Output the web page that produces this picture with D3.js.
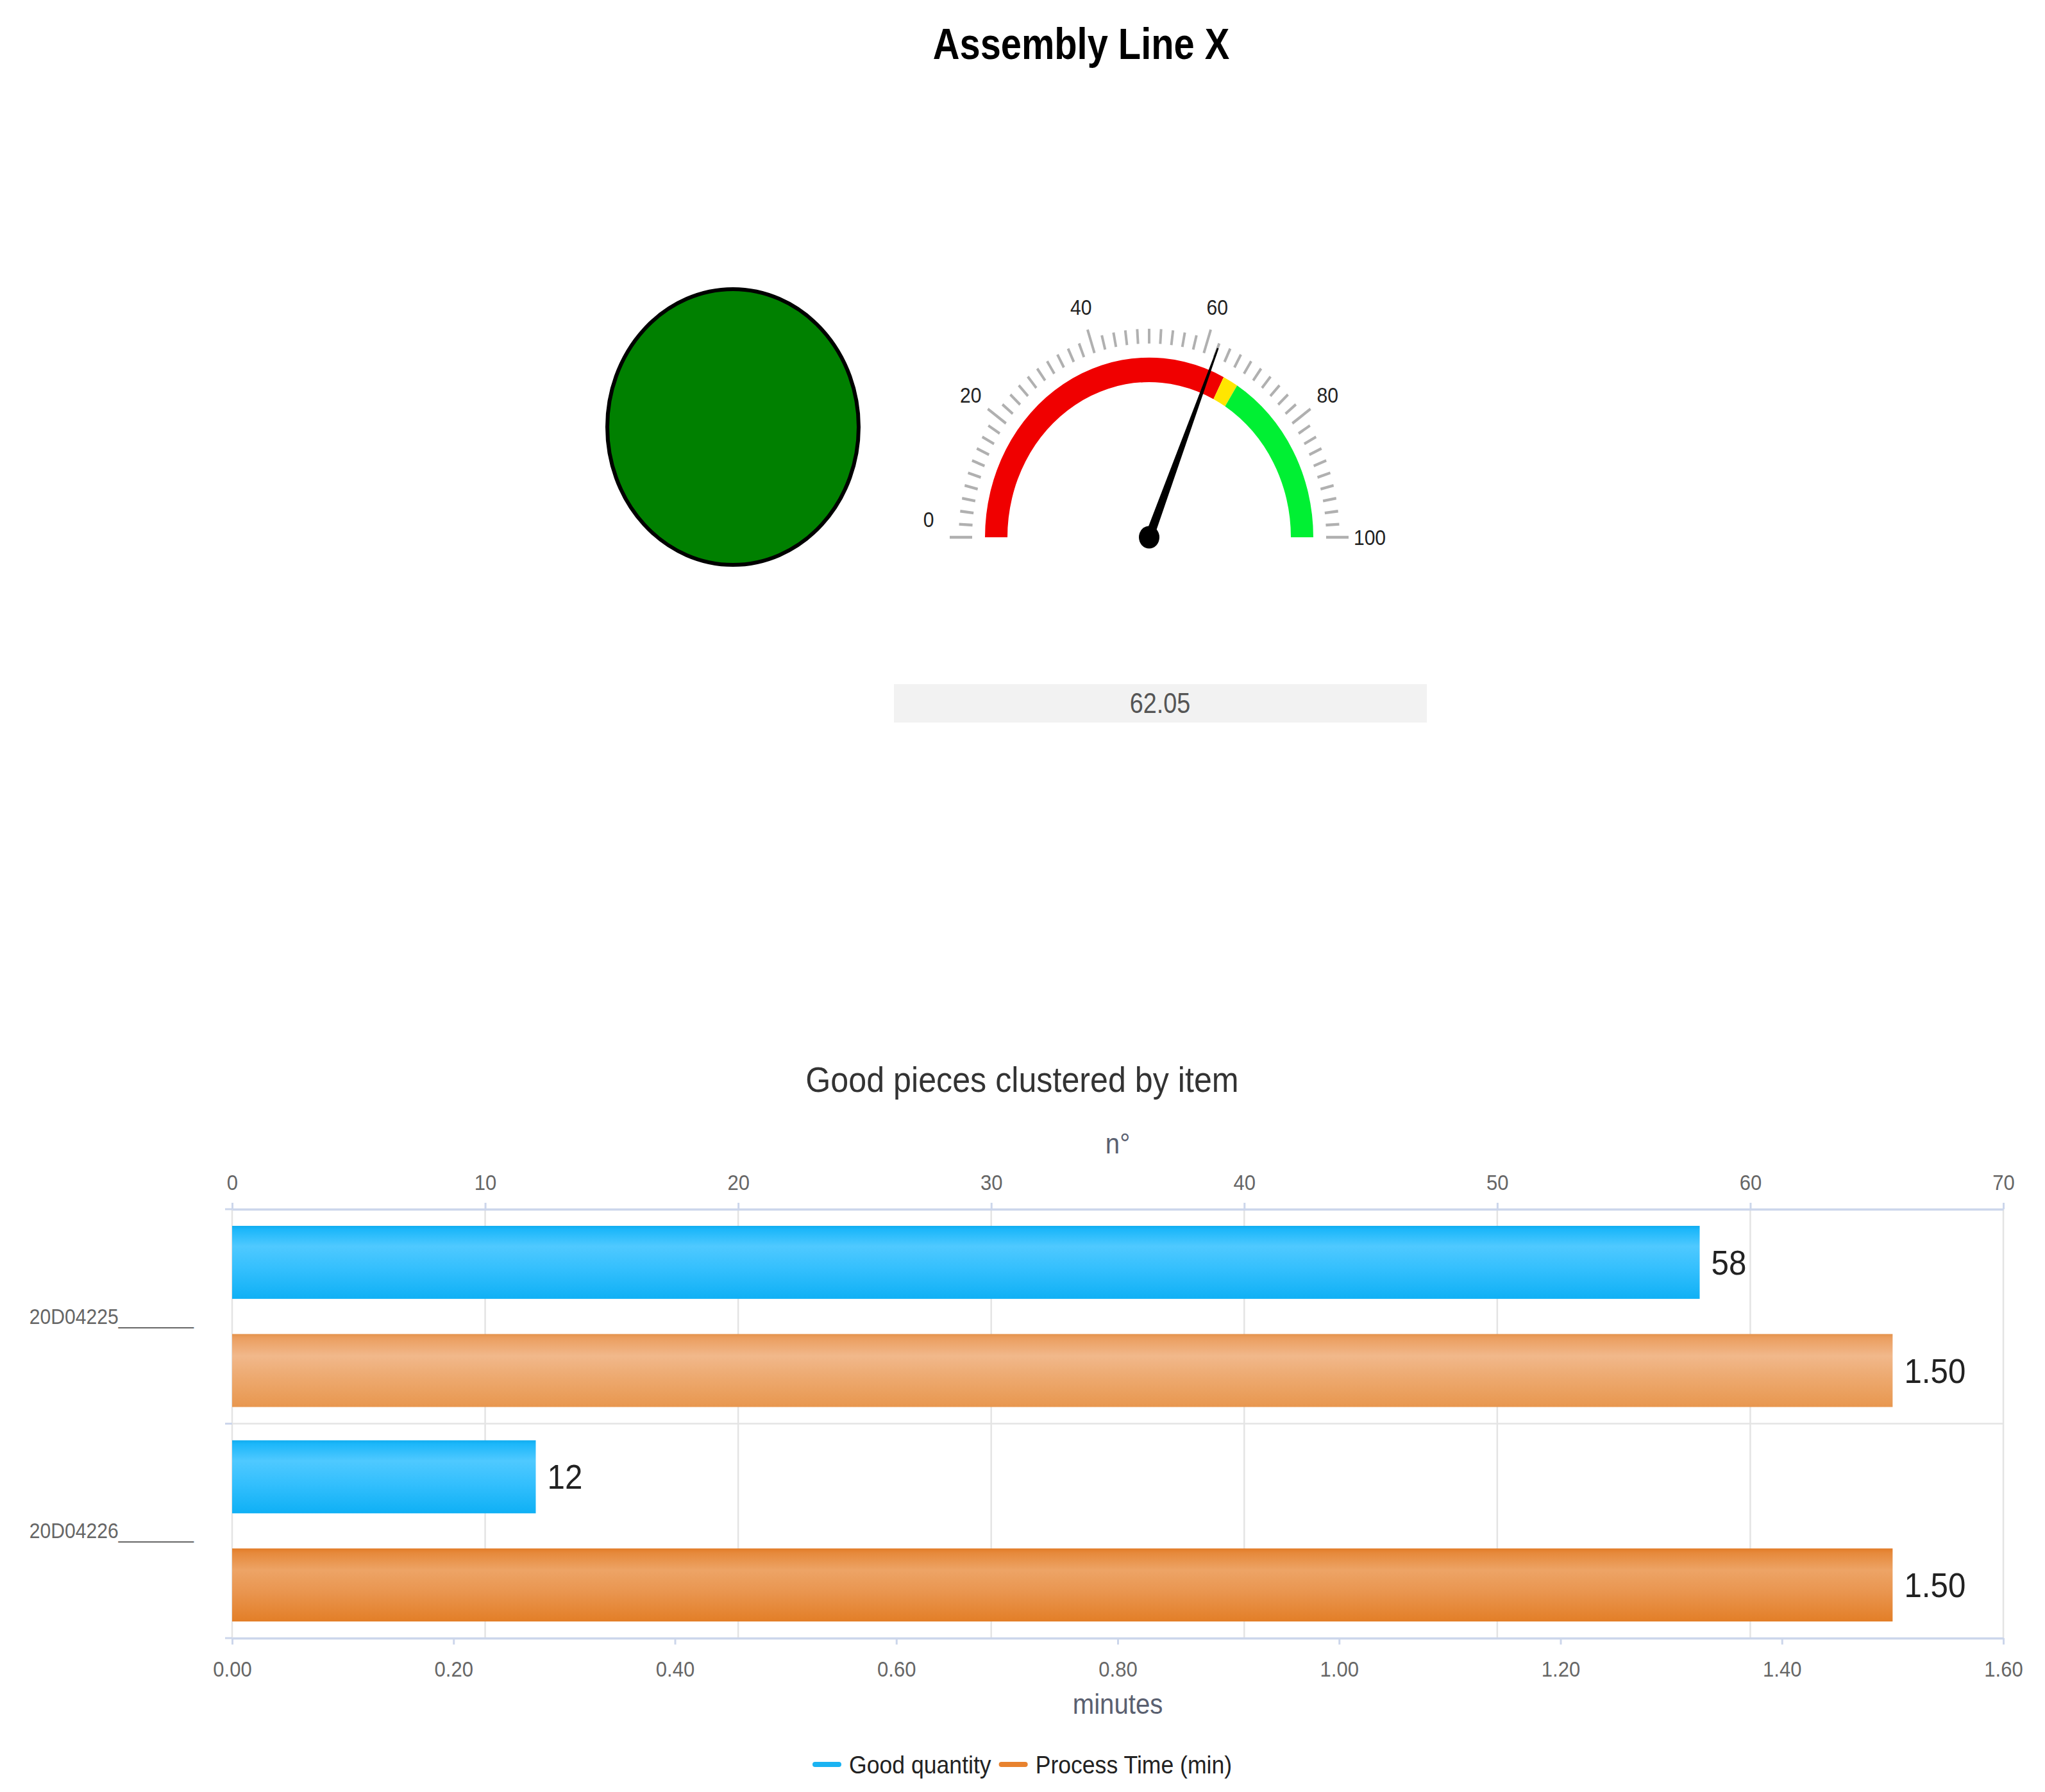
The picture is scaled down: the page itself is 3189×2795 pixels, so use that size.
<!DOCTYPE html>
<html><head><meta charset="utf-8">
<script src="https://cdn.jsdelivr.net/npm/d3@7"></script>
<style>body{margin:0;background:#fff} svg{display:block}</style>
</head><body>
<script>
// ---------------- data ----------------
const pageTitle = "Assembly Line X";
const statusColor = "#008000";
const gaugeValue = 62.05;
const gaugeDomain = [0, 100];
const gaugeLabels = [0, 20, 40, 60, 80, 100];
const gaugeBandLimits = [0, 65, 68, 100];
const gaugeBandColors = ["#f00000", "#ffe600", "#00f033"];
const chartTitle = "Good pieces clustered by item";
const items = ["20D04225_______", "20D04226_______"];
const goodQuantity = [58, 12];
const processTime = [1.50, 1.50];
const seriesNames = ["Good quantity", "Process Time (min)"];
const seriesColors = ["#1ab3f2", "#e8822e"];
const topTicks = [0, 10, 20, 30, 40, 50, 60, 70];
const bottomTicks = [0, 0.2, 0.4, 0.6, 0.8, 1.0, 1.2, 1.4, 1.6];
const topAxisTitle = "n°";
const bottomAxisTitle = "minutes";

// ---------------- setup ----------------
const W = 3189, H = 2795;
const SX = 0.913;           // horizontal squeeze of the original picture
const FONT = "'Liberation Sans', Arial, sans-serif";
const svg = d3.select("body").append("svg").attr("width", W).attr("height", H)
  .style("font-family", FONT);
svg.append("rect").attr("width", W).attr("height", H).attr("fill", "#fff");
const defs = svg.append("defs");

function txt(g, x, y, s, o = {}) {
  return g.append("text")
    .attr("transform", `translate(${x},${y}) scale(${o.sx || SX},1)`)
    .attr("text-anchor", o.anchor || "middle")
    .attr("dy", o.dy || "0.35em")
    .attr("font-size", o.size || 30)
    .attr("font-weight", o.weight || "normal")
    .attr("fill", o.fill || "#333")
    .text(s);
}

// ---------------- title ----------------
txt(svg, 1686, 68, pageTitle, {size: 68, weight: "bold", fill: "#000", sx: 0.85});

// ---------------- status lamp ----------------
svg.append("ellipse").attr("cx", 1143).attr("cy", 666).attr("rx", 196).attr("ry", 215)
  .attr("fill", statusColor).attr("stroke", "#000").attr("stroke-width", 6);

// ---------------- gauge ----------------
const gcx = 1792, gcy = 838, gsy = 1.095;
const ang = d3.scaleLinear().domain(gaugeDomain).range([-Math.PI / 2, Math.PI / 2]);
const gg = svg.append("g").attr("transform", `translate(${gcx},${gcy}) scale(1,${gsy})`);
const arc = d3.arc().innerRadius(221).outerRadius(256);
gaugeBandColors.forEach((c, i) => {
  gg.append("path")
    .attr("d", arc({startAngle: ang(gaugeBandLimits[i]), endAngle: ang(gaugeBandLimits[i + 1])}))
    .attr("fill", c);
});
const tickVals = ang.ticks(50);
tickVals.forEach(v => {
  const a = ang(v), major = gaugeLabels.includes(v);
  const r0 = 276, r1 = major ? 311 : 297;
  gg.append("line")
    .attr("x1", r0 * Math.sin(a)).attr("y1", -r0 * Math.cos(a))
    .attr("x2", r1 * Math.sin(a)).attr("y2", -r1 * Math.cos(a))
    .attr("stroke", "#b0b0b0").attr("stroke-width", 4);
});
const needle = gg.append("g").attr("transform", `rotate(${ang(gaugeValue) * 180 / Math.PI})`);
needle.append("path").attr("d", "M-7,0 L-1.3,-290 L1.3,-290 L7,0 Z").attr("fill", "#000");
gg.append("circle").attr("r", 16).attr("fill", "#000");
gaugeLabels.forEach(v => {
  const a = ang(v), r = 344;
  // end labels sit slightly above the horizontal in the original
  const lift = v === gaugeDomain[0] ? -28 : 0;
  txt(svg, gcx + r * Math.sin(a), gcy - r * Math.cos(a) * gsy + lift, String(v), {size: 33, fill: "#222"});
});
// value box
svg.append("rect").attr("x", 1394).attr("y", 1067).attr("width", 831).attr("height", 60).attr("fill", "#f2f2f2");
txt(svg, 1809, 1097, d3.format(".2f")(gaugeValue), {size: 44, fill: "#555", sx: 0.86});

// ---------------- bar chart ----------------
const x0 = 362, x1 = 3124, yTop = 1886, yBot = 2555;
const xTop = d3.scaleLinear().domain([0, 70]).range([x0, x1]);
const xBot = d3.scaleLinear().domain([0, 1.6]).range([x0, x1]);
const yCat = d3.scaleBand().domain(items).range([yTop, yBot]);
const ySer = d3.scaleBand().domain(seriesNames).range([0, yCat.bandwidth()])
  .paddingInner(0.325).paddingOuter(0.154);

txt(svg, 1594, 1684, chartTitle, {size: 55, fill: "#333"});

// grid
const grid = svg.append("g");
grid.selectAll("line.v").data(topTicks).join("line")
  .attr("x1", d => xTop(d)).attr("x2", d => xTop(d))
  .attr("y1", yTop).attr("y2", yBot)
  .attr("stroke", "#e4e4e4").attr("stroke-width", 2.5);
grid.selectAll("line.h").data(items.slice(1)).join("line")
  .attr("x1", x0).attr("x2", x1)
  .attr("y1", d => yCat(d)).attr("y2", d => yCat(d))
  .attr("stroke", "#e4e4e4").attr("stroke-width", 2.5);
// category boundary ticks on left
const bounds = items.map(d => yCat(d)).concat([yBot]);
grid.selectAll("line.lt").data(bounds).join("line")
  .attr("x1", x0 - 11).attr("x2", x0).attr("y1", d => d).attr("y2", d => d)
  .attr("stroke", "#ccd6eb").attr("stroke-width", 3);

// axes
function styleAxis(g) {
  g.select(".domain").attr("stroke", "#ccd6eb").attr("stroke-width", 3.5);
  g.selectAll(".tick line").attr("stroke", "#ccd6eb").attr("stroke-width", 3);
  g.selectAll(".tick text").attr("fill", "#666").attr("font-size", 34)
    .attr("font-family", FONT).attr("transform", `scale(${SX},1)`);
}
const axT = svg.append("g").attr("transform", `translate(0,${yTop})`)
  .call(d3.axisTop(xTop).tickValues(topTicks).tickFormat(d3.format("d")).tickSize(10).tickSizeOuter(0).tickPadding(20));
styleAxis(axT);
const axB = svg.append("g").attr("transform", `translate(0,${yBot})`)
  .call(d3.axisBottom(xBot).tickValues(bottomTicks).tickFormat(d3.format(".2f")).tickSize(10).tickSizeOuter(0).tickPadding(26));
styleAxis(axB);

txt(svg, (x0 + x1) / 2, 1784, topAxisTitle, {size: 44, fill: "#5a6070"});
txt(svg, (x0 + x1) / 2, 2658, bottomAxisTitle, {size: 44, fill: "#5a6070"});

// category labels
items.forEach(d => {
  txt(svg, 302, yCat(d) + yCat.bandwidth() / 2, d, {size: 33, fill: "#666", anchor: "end"});
});

// gradients
const gradStops = {
  blue: [[0, "#10acef"], [0.05, "#1cb7fa"], [0.28, "#4fc9ff"], [0.6, "#33bffd"], [1, "#0fb0f5"]],
  orangeA: [[0, "#e5934c"], [0.06, "#eb9f61"], [0.3, "#f1b88b"], [0.6, "#eda96f"], [1, "#e8974f"]],
  orangeB: [[0, "#e27c28"], [0.06, "#e6893b"], [0.3, "#eda466"], [0.6, "#e9954f"], [1, "#e37e27"]]
};
Object.entries(gradStops).forEach(([k, stops]) => {
  const lg = defs.append("linearGradient").attr("id", "g-" + k)
    .attr("x1", 0).attr("y1", 0).attr("x2", 0).attr("y2", 1);
  stops.forEach(s => lg.append("stop").attr("offset", s[0]).attr("stop-color", s[1]));
});
const barStyle = [["blue", "blue"], ["orangeA", "orangeB"]];

const bars = svg.append("g");
const seriesData = [goodQuantity, processTime];
const seriesScale = [xTop, xBot];
const labelFmt = [d3.format("d"), d3.format(".2f")];
seriesData.forEach((vals, si) => {
  vals.forEach((v, ci) => {
    const y = yCat(items[ci]) + ySer(seriesNames[si]);
    const sc = seriesScale[si];
    bars.append("rect")
      .attr("x", sc(0)).attr("y", y)
      .attr("width", sc(v) - sc(0)).attr("height", ySer.bandwidth())
      .attr("fill", `url(#g-${barStyle[si][ci]})`);
    txt(svg, sc(v) + 18, y + ySer.bandwidth() / 2, labelFmt[si](v), {size: 54, fill: "#222", anchor: "start"});
  });
});

// legend
const leg = svg.append("g");
let lx = 1271;
const ly = 2752;
seriesNames.forEach((name, i) => {
  leg.append("line").attr("x1", lx).attr("x2", lx + 37).attr("y1", ly).attr("y2", ly)
    .attr("stroke", seriesColors[i]).attr("stroke-width", 8).attr("stroke-linecap", "round");
  const t = txt(leg, lx + 53, ly, name, {size: 39, fill: "#222", anchor: "start"});
  lx = lx + 53 + t.node().getComputedTextLength() * SX + 16;
});
</script>
</body></html>
